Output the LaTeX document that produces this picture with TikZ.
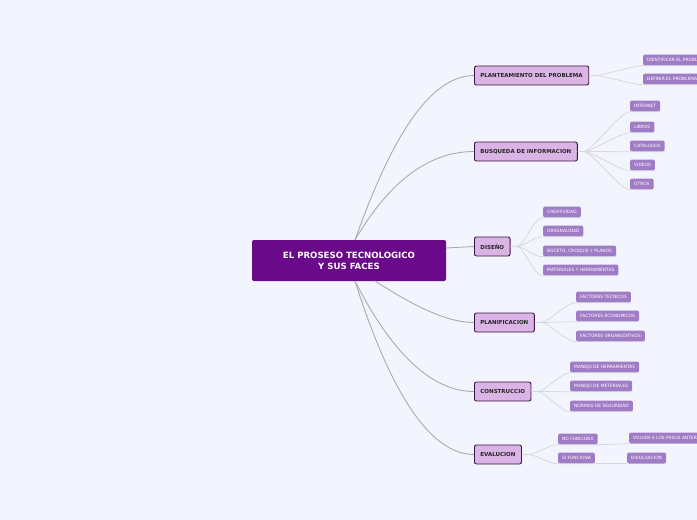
\documentclass[tikz,border=0pt]{standalone}
\usepackage{fontspec}
\setmainfont{DejaVu Sans}
\usetikzlibrary{calc}
\begin{document}
\begin{tikzpicture}[x=1pt,y=-1pt,
  root/.style={fill=rootc,rounded corners=2pt,text=white,font=\bfseries\fontsize{8.6}{11}\selectfont,align=center,minimum width=194pt,minimum height=41pt,inner sep=0},
  br/.style={fill=brc,draw=brd,line width=0.9pt,rounded corners=2pt,font=\bfseries\fontsize{5.5}{6}\selectfont,text=black!85,minimum height=19pt,inner xsep=6pt,anchor=west},
  lf/.style={fill=lfc,rounded corners=1.5pt,text=white,font=\fontsize{4.4}{5}\selectfont,minimum height=11pt,inner xsep=4pt,anchor=west},
  c1/.style={draw=gray!65,line width=0.9pt},
  c2/.style={draw=gray!30,line width=0.8pt}]
\definecolor{bg}{HTML}{F3F5FE}
\definecolor{rootc}{HTML}{6A0A8A}
\definecolor{brc}{HTML}{DAB4E4}
\definecolor{brd}{HTML}{3D1248}
\definecolor{lfc}{HTML}{A17CC6}
\path[use as bounding box,fill=bg] (0,0) rectangle (697,520);
\clip (0,0) rectangle (697,520);
\node[root] (r) at (349,260.5) {EL PROSESO TECNOLOGICO\\Y SUS FACES};
\node[br] (b1) at (474,75.5) {PLANTEAMIENTO DEL PROBLEMA};
\node[br] (b2) at (474,151.5) {BUSQUEDA DE INFORMACION};
\node[br] (b3) at (474,246.5) {DISEÑO};
\node[br] (b4) at (474,322.5) {PLANIFICACION};
\node[br] (b5) at (474,391.5) {CONSTRUCCIO};
\node[br] (b6) at (474,454.5) {EVALUCION};
\coordinate (rt) at (355,240);
\coordinate (rb) at (355,281);
\draw[c1] (rt) .. controls (380,170) and (420,75.5) .. (b1.west);
\draw[c1] (rt) .. controls (390,180) and (430,151.5) .. (b2.west);
\draw[c1] (446,248) .. controls (460,246.5) .. (b3.west);
\draw[c1] (375,281) .. controls (420,310) and (450,322.5) .. (b4.west);
\draw[c1] (rb) .. controls (390,350) and (430,391.5) .. (b5.west);
\draw[c1] (rb) .. controls (380,360) and (420,454.5) .. (b6.west);
\node[lf] (l11) at (643,60) {IDENTIFICAR EL PROBLEMA};
\node[lf] (l12) at (643,79) {DEFINIR EL PROBLEMA};
\node[lf] (l21) at (630,106) {INTERNET};
\node[lf] (l22) at (630,127) {LIBROS};
\node[lf] (l23) at (630,146) {CATALOGOS};
\node[lf] (l24) at (630,165) {VIDEOS};
\node[lf] (l25) at (630,184) {OTROS};
\node[lf] (l31) at (543,212) {CREATIVIDAD};
\node[lf] (l32) at (543,231) {ORIGINALIDAD};
\node[lf] (l33) at (543,251) {BOCETO, CROQUIS Y PLANOS};
\node[lf] (l34) at (543,270) {MATERIALES Y HERRAMIENTAS};
\node[lf] (l41) at (576,297) {FACTORES TECNICOS};
\node[lf] (l42) at (576,316) {FACTORES ECONOMICOS};
\node[lf] (l43) at (576,336) {FACTORES ORGANIZATIVOS};
\node[lf] (l51) at (570,367) {MANEJO DE HERRAMIENTAS};
\node[lf] (l52) at (570,386) {MANEJO DE METERIALES};
\node[lf] (l53) at (570,406) {NORMAS DE SEGURIDAD};
\node[lf] (l61) at (558,439) {NO FUNCIONA};
\node[lf] (l62) at (558,458) {SI FUNCIONA};
\node[lf] (l71) at (629,438) {VOLVER A LOS PASOS ANTERIORES};
\node[lf] (l72) at (627,458) {DIVULGACION};
\foreach \b/\l in {b1/l11,b1/l12,b2/l21,b2/l22,b2/l23,b2/l24,b2/l25,b3/l31,b3/l32,b3/l33,b3/l34,b4/l41,b4/l42,b4/l43,b5/l51,b5/l52,b5/l53,b6/l61,b6/l62}{
  \draw[c2] (\b.east) -- ++(6,0) .. controls ($(\b.east)+(14,0)$) and ([xshift=-10pt]\l.south west) .. (\l.south west) -- (\l.south east);
}
\draw[c2] (l61.south east) -- (l71.south west);
\draw[c2] (l62.south east) -- (l72.south west);
\end{tikzpicture}
\end{document}
